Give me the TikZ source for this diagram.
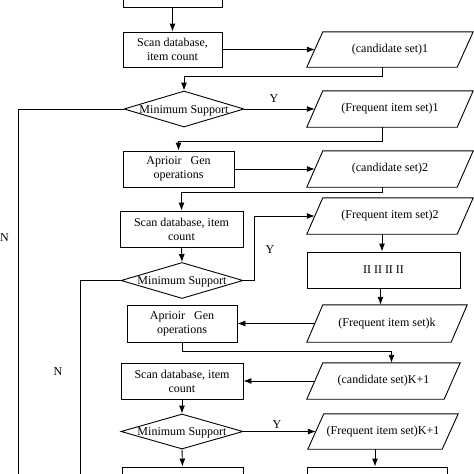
\documentclass[tikz,border=0pt]{standalone}
\usepackage{fontspec}
\setmainfont{Liberation Serif}
\usetikzlibrary{shapes.geometric,arrows.meta}
\tikzset{
  every node/.style={font=\fontsize{12}{14}\selectfont, text=black},
  box/.style={draw, line width=0.9pt, minimum height=36pt, inner sep=0pt, align=center},
  para/.style={minimum height=36pt, inner sep=0pt, align=center},
  dia/.style={draw, line width=0.9pt, diamond, inner sep=0pt, minimum width=122pt, minimum height=36pt},
  arr/.style={line width=0.9pt, -{Latex[length=8pt,width=6pt]}},
  conn/.style={line width=0.9pt},
  lbl/.style={inner sep=0pt}
}
\newcommand{\dtext}[1]{\smash{\raisebox{-4pt}{\makebox[0pt]{#1}}}}
\begin{document}
\begin{tikzpicture}[x=1pt,y=-1pt]
\useasboundingbox (0,0) rectangle (474,474);
\clip (0,0) rectangle (474,474);
\fill[white] (0,0) rectangle (474,474);
% left column
\node[box, minimum width=99pt, minimum height=37pt] (T) at (172.5,-11.5) {};
\node[box, minimum width=99pt, minimum height=35pt] (S1) at (172.5,49.5) {Scan database,\\item count};
\node[dia, minimum width=120pt] (D1) at (184,109) {\dtext{Minimum Support}};
\node[box, minimum width=111pt] (A1) at (178.5,169) {Aprioir\hspace{9pt}Gen\\operations};
\node[box, minimum width=123pt] (S2) at (181.5,229) {Scan database, item\\count};
\node[dia] (D2) at (182,280.5) {\dtext{Minimum Support}};
\node[box, minimum width=110pt, minimum height=37pt] (A2) at (182,323.5) {Aprioir\hspace{9pt}Gen\\operations};
\node[box, minimum width=122pt] (S3) at (182,381) {Scan database, item\\count};
\node[dia, minimum height=35pt] (D3) at (182,431.5) {\dtext{Minimum Support}};
\node[box, minimum width=121pt] (B2) at (182.5,485) {};
% right column
\node[para, minimum width=166pt, minimum height=35pt] (P1) at (390,49.5) {(candidate set)1};
\node[para, minimum width=166pt] (P2) at (390,109) {(Frequent item set)1};
\node[para, minimum width=166pt] (P3) at (390,169) {(candidate set)2};
\node[para, minimum width=166pt] (P4) at (390,216) {(Frequent item set)2};
\node[box, minimum width=153pt] (B1) at (383.5,270) {II II II II};
\node[para, minimum width=160pt, minimum height=37pt] (P5) at (387,323.5) {(Frequent item set)k};
\node[para, minimum width=153pt] (P6) at (383.5,381) {(candidate set)K+1};
\node[para, minimum width=150pt, minimum height=35pt] (P7) at (383,431.5) {(Frequent item set)K+1};
\node[box, minimum width=140pt] (B3) at (377,485) {};
\foreach \n in {P1,P2,P3,P4,P5,P6,P7}
  \draw[conn] (\n.south west) -- ([xshift=16pt]\n.north west) -- (\n.north east) -- ([xshift=-16pt]\n.south east) -- cycle;
% labels
\node[lbl] (y1) at (274,99) {Y};
\node[lbl] (y2) at (270,250) {Y};
\node[lbl] (y3) at (277,425) {Y};
\node[lbl] (n1) at (4.5,238) {N};
\node[lbl] (n2) at (58,372) {N};
\coordinate (e1) at (18,500);
\coordinate (e2) at (80,500);
% connectors
\draw[arr] (T.south) -- (S1.north);
\draw[arr] (S1.east) -- ([xshift=8pt]P1.west);
\draw[arr] ([xshift=-8pt]P1.south) -- ++(0,9) -| (D1.north);
\draw[arr] (D1.east) -- ([xshift=8pt]P2.west);
\draw[arr] ([xshift=-8pt]P2.south) -- ++(0,14) -| (A1.north);
\draw[arr] (A1.east) -- ([xshift=8pt]P3.west);
\draw[arr] ([xshift=-8pt]P3.south) -- ++(0,5) -| (S2.north);
\draw[arr] (S2.south) -- (D2.north);
\draw[arr] (D2.east) -- ++(11,0) |- ([xshift=8pt]P4.west);
\draw[arr] ([xshift=-8pt]P4.south) -- ([xshift=-8pt]P4.south |- B1.north);
\draw[arr] ([xshift=-3pt]B1.south) -- ([xshift=-3pt]B1.south |- P5.north);
\draw[arr] ([xshift=8pt]P5.west) -- (A2.east);
\draw[arr] (A2.south) -- ++(0,9) -| ([xshift=8pt]P6.north);
\draw[arr] ([xshift=8pt]P6.west) -- (S3.east);
\draw[arr] (S3.south) -- (D3.north);
\draw[arr] (D3.east) -- ([xshift=8pt]P7.west);
\draw[arr] (D3.south) -- (B2.north);
\draw[arr] ([xshift=-8pt]P7.south) -- ([xshift=-8pt]P7.south |- B3.north);
\draw[conn] (D1.west) -| (e1);
\draw[conn] (D2.west) -| (e2);
\end{tikzpicture}
\end{document}
